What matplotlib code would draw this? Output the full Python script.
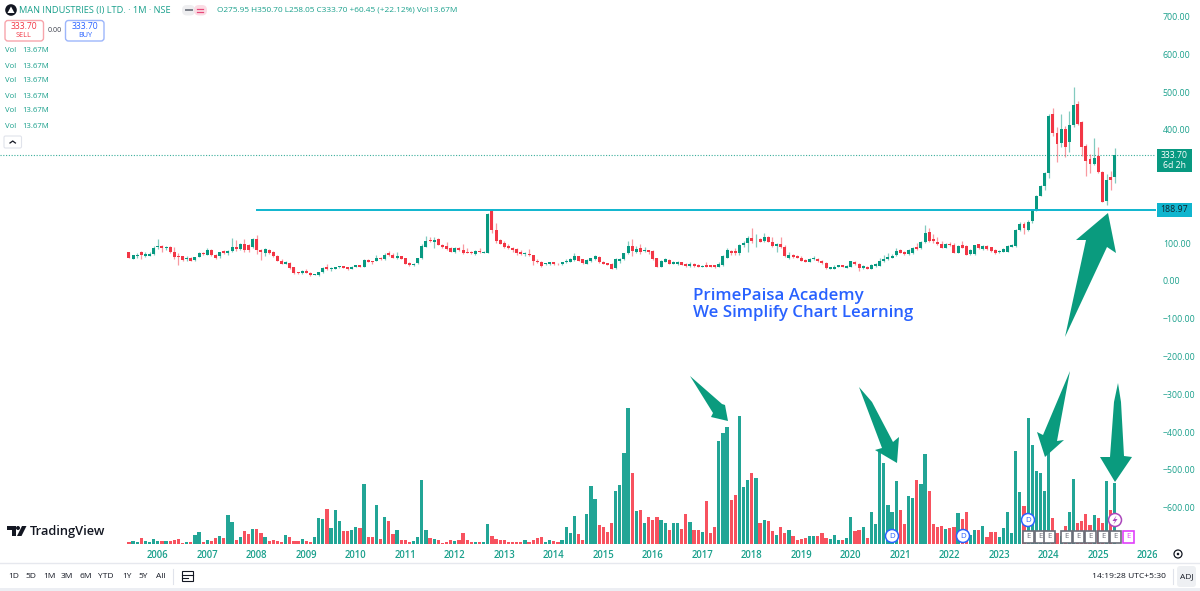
import numpy as np
import matplotlib
matplotlib.use("Agg")
import matplotlib.pyplot as plt
from matplotlib.patches import Polygon, Rectangle, Circle, FancyBboxPatch

plt.rcParams['font.family'] = ['Open Sans', 'DejaVu Sans']

open_p = [76,58,66,78,67,67,71,89,92,87, 90,78,65,66,57,61,55,64,75,70, 83,69,65,79,73,80,89,85,98,95,
          91,111,82,75,83,78,67,54,46,48, 36,24,20,26,22,16,16,23,36,31, 32,36,39,36,32,38,41,38,56,52,
          53,61,57,73,68,62,65,61,48,42, 47,60,91,108,103,110,95,92,87,78, 86,83,76,77,71,79,75,75,188,135,
          108,101,92,88,84,77,71,72,68,54, 51,44,45,49,46,45,49,51,55,66, 57,46,53,58,64,51,47,45,35,53,
          57,73,93,77,86,79,81,80,60,38, 51,56,45,46,49,46,39,46,42,37, 42,41,41,38,42,62,80,80,73,95,
          101,113,105,112,106,117,102,93,97,91, 62,69,67,62,55,50,57,59,53,47, 32,33,38,41,35,37,50,46,34,37,
          33,40,40,52,57,62,69,82,77,71, 74,90,86,103,130,111,104,99,88,98, 96,75,95,92,71,72,97,84,93,89,
          81,76,77,78,91,92,135,151,135,159, 189,226,252,285,443,392,366,401,367,412,
          468,420,357,322,309,330,289,212,274,275.95]
close_p = [61,68,68,68,71,71,88,92,86,91, 77,63,63,55,62,53,63,75,72,83, 68,62,77,75,79,91,85,97,82,82,
           110,82,77,84,73,66,54,46,51,35, 20,20,26,22,15,18,23,35,31,34, 36,39,35,31,38,41,37,56,51,50,
           61,58,70,68,62,65,59,46,41,46, 60,92,106,106,109,95,90,84,77,86, 83,75,75,73,79,76,77,177,136,106,
           99,91,86,82,73,71,74,69,52,49, 40,47,49,45,44,49,53,57,66,54, 47,55,60,65,49,46,43,33,57,59,
           73,93,79,85,77,82,77,58,38,53, 58,46,49,50,43,39,45,39,37,40, 37,37,37,46,66,82,73,73,95,101,
           114,106,107,103,117,104,93,98,91,66, 70,63,61,53,50,58,61,52,47,34, 37,38,41,38,39,52,45,35,40,32,
           41,44,52,57,64,66,79,75,71,82, 86,85,103,128,107,105,98,88,97,94, 75,92,88,70,82,95,86,93,85,80,
           75,79,84,92,95,136,150,139,157,186, 225,251,285,437,392,362,401,355,412,465,
           415,355,318,309,326,289,210,267,267,333.70]
high_p = [77,70,74,79,77,76,92,110,94,92, 92,90,73,67,65,63,64,78,76,86, 84,72,78,82,83,115,108,100,111,98,
          115,123,84,87,85,80,68,58,52,50, 37,25,30,33,24,19,25,37,44,36, 38,40,40,37,39,42,42,57,57,53,
          70,64,73,80,75,76,67,62,49,47, 62,97,120,117,116,115,99,104,90,90, 90,98,88,80,81,86,80,179,190,153,
          112,106,97,90,86,82,77,84,69,58, 53,48,50,50,47,51,59,60,75,67, 58,57,62,70,66,53,48,47,60,61,
          75,107,110,92,97,90,82,81,62,55, 61,58,52,54,51,48,50,48,44,42, 49,43,43,50,68,86,82,87,98,106,
          120,139,125,115,126,120,117,101,117,95, 78,72,69,65,57,60,65,60,55,49, 38,42,43,43,41,53,54,48,42,39,
          44,47,62,70,73,72,88,84,79,84, 89,101,106,148,140,125,117,105,100,103, 100,95,105,96,84,96,99,96,95,91,
          84,81,87,95,98,138,155,155,162,188, 228,253,288,442,458,408,442,410,450,513,
          476,424,362,335,379,354,292,283,291,350.70]
low_p = [60,57,62,58,64,65,70,85,77,82, 73,57,42,52,54,52,53,63,68,68, 66,58,62,72,70,78,80,82,78,78,
         88,71,55,65,71,64,52,44,45,33, 19,19,19,20,14,15,14,22,29,26, 31,35,34,30,31,37,36,37,50,45,
         52,56,56,66,60,58,58,44,39,40, 46,58,90,104,88,94,86,82,76,75, 80,72,73,71,69,74,74,74,128,100,
         98,88,84,76,70,70,67,67,42,47, 38,42,41,43,42,43,48,50,53,52, 46,45,51,56,48,44,41,32,33,47,
         55,72,67,74,72,76,72,56,36,36, 49,45,44,43,42,37,37,37,36,36, 36,36,35,37,40,60,70,70,70,90,
         76,100,89,102,104,102,90,78,88,64, 58,62,60,52,49,49,56,50,45,32, 31,32,36,36,34,36,43,27,33,31,
         32,38,39,51,56,60,67,73,69,69, 72,82,85,101,103,100,96,86,86,92, 73,73,86,68,69,70,84,82,82,78,
         72,75,76,77,90,90,133,125,133,153, 186,225,240,273,383,315,355,327,341,408,
         412,330,278,285,306,285,209,202,240,258.05]
# monthly volume, in units where the last bar (May 2025) reads 182 = 13.67M
volume_units = [5,10,6,18,8,5,14,10,10,8, 10,13,14,3,5,6,27,35,7,12, 8,17,24,18,88,65,12,20,38,30,
                45,45,33,22,8,13,8,5,28,22, 10,9,14,9,5,22,78,76,104,48, 103,68,38,39,42,52,47,180,22,22,
                116,14,82,70,30,41,11,11,7,8, 20,192,41,18,14,12,3,5,13,9, 11,34,13,7,5,5,5,60,24,15,
                11,11,6,7,7,7,11,6,12,18, 21,6,13,9,6,11,50,32,84,30, 13,90,174,135,58,52,35,62,160,176,
                272,407,212,98,103,63,80,71,82,71, 62,41,62,63,46,91,67,41,41,37, 128,32,50,309,333,350,132,146,384,170,
                191,214,197,62,71,69,39,27,50,33, 41,23,13,15,17,23,24,24,33,17, 14,28,11,11,17,82,40,41,52,17,
                97,60,275,243,118,97,190,103,60,144, 139,192,179,270,159,60,52,53,46,48, 50,92,75,96,28,42,41,55,20,35,
                35,20,47,95,32,280,156,115,378,296, 218,213,158,278,78,33,25,55,95,194,
                62,70,90,58,87,77,62,190,103,182]
years = list(range(2006, 2027))
price_ticks = [700,600,500,400,300,200,100,0,-100,-200,-300,-400,-500,-600]
hidden_ticks = [300, 200]  # covered by the price tags in the reference
support_level = 188.97

GREEN, RED = '#089981', '#F23645'
VGREEN, VRED = '#22A596', '#F7525F'
TEAL = '#1AA08C'

O, H, L, C = map(np.array, (open_p, high_p, low_p, close_p))
V = np.array(volume_units) * 13.67 / 182
idx = np.arange(len(C))
up = C >= O

W, Hh = 1200, 591
fig = plt.figure(figsize=(12, 5.91), dpi=100, facecolor='white')
pane_right, pane_bottom = 1156, 544
rect = [0, 1 - pane_bottom / Hh, pane_right / W, pane_bottom / Hh]

# volume pane (behind)
axv = fig.add_axes(rect, facecolor='white')
axv.bar(idx, V, width=0.78, color=[VGREEN if u else VRED for u in up], linewidth=0)
axv.set_xlim(-31.27, 249.0)
axv.set_ylim(0, 122.6)
axv.set_yticks([])
axv.set_xticks(7 + 12 * (np.array(years) - 2006))
axv.set_xticklabels([str(y) for y in years], fontsize=6.9, color=TEAL, fontweight='semibold')
axv.tick_params(axis='x', length=0, pad=4)
for s in axv.spines.values():
    s.set_visible(False)

# price pane
ax = fig.add_axes(rect, facecolor='none')
ax.set_xlim(-31.27, 249.0)
ax.set_ylim(-695.8, 743.4)
ax.vlines(idx, L, H, color=[GREEN if u else RED for u in up], lw=0.9, alpha=0.5, zorder=2)
ax.bar(idx, np.abs(C - O), bottom=np.minimum(O, C), width=0.72,
       color=[GREEN if u else RED for u in up], linewidth=0, zorder=3)
ax.axhline(C[-1], color=GREEN, lw=0.8, ls=(0, (1, 1.5)), alpha=0.8, zorder=1)
ax.hlines(support_level, 30.8, 249.0, color='#0FB5CE', lw=1.4, zorder=4)
ax.set_xticks([])
ax.yaxis.tick_right()
ax.set_yticks(price_ticks)
ax.set_yticklabels(["" if t in hidden_ticks else f"{t:.2f}".replace('-', '\u2212') for t in price_ticks],
                   fontsize=6.3, color=TEAL, ha='left', fontweight='medium')
ax.tick_params(axis='y', length=0, pad=5)
for s in ax.spines.values():
    s.set_visible(False)

# overlay in pixel units for the chart furniture
ov = fig.add_axes([0, 0, 1, 1], facecolor='none')
ov.set_xlim(0, W); ov.set_ylim(Hh, 0); ov.axis('off')

def T(x, y, s, size=8, color=TEAL, ha='left', weight='normal', **kw):
    ov.text(x, y, s, fontsize=size, color=color, ha=ha, va='center', fontweight=weight, **kw)

def RB(x0, y0, x1, y1, r=2, fc='white', ec='none', lw=1, z=5):
    ov.add_patch(FancyBboxPatch((x0 + r, y0 + r), x1 - x0 - 2 * r, y1 - y0 - 2 * r,
                                boxstyle=f"round,pad={r},rounding_size={r}",
                                fc=fc, ec=ec, lw=lw, zorder=z))

# clip 2026 label at the pane edge
ov.add_patch(Rectangle((1156.5, 546), 16, 14, fc='white', ec='none', zorder=2))

# arrows
AC = '#0A9B7E'
arrows = [
    [(1108,213),(1116,253),(1107,247),(1065,337),(1086,240),(1076,240)],
    [(728,421),(711,417),(713,413),(690,376),(722,404),(725,405)],
    [(897,463),(875,450),(882,448),(859,387),(872,402),(893,442),(899,437)],
    [(1045,457),(1037,432),(1043,435),(1070,371),(1057,441),(1064,440)],
    [(1115,482),(1100,457),(1110,457),(1114,402),(1118,383),(1121,402),(1124,456),(1132,457)],
]
for a in arrows:
    ov.add_patch(Polygon(a, closed=True, fc=AC, ec='none', zorder=6))

# annotation text
T(693, 296, "PrimePaisa Academy", size=12.2, color='#2962FF', weight='semibold')
T(693, 313, "We Simplify Chart Learning", size=12.2, color='#2962FF', weight='semibold')

# last price labels
ov.add_patch(Rectangle((1157, 149), 35, 23, fc=GREEN, ec='none', zorder=6))
T(1174.5, 155.5, "333.70", size=6.3, color='white', ha='center', zorder=7, weight='medium')
T(1174.5, 165.5, "6d 2h", size=6.3, color='white', ha='center', zorder=7)
ov.add_patch(Rectangle((1157, 203), 35, 14, fc='#0FB5CE', ec='none', zorder=6))
T(1174.5, 209.8, "188.97", size=6.3, color='#10202A', ha='center', zorder=7, weight='medium')

# header
ov.add_patch(Circle((11, 10), 5.8, fc='#131722', ec='none', zorder=6))
ov.add_patch(Polygon([(11, 6.5), (14.5, 13), (7.5, 13)], fc='white', ec='none', zorder=7))
T(19, 10, "MAN INDUSTRIES (I) LTD. \u00b7 1M \u00b7 NSE", size=6.7, color=TEAL)
RB(182, 5, 195, 15.5, r=5, fc='#EEEEF0')
RB(194, 5, 207, 15.5, r=5, fc='#FBDCE4')
ov.plot([185.5, 191.5], [10.3, 10.3], color='#7A7E88', lw=1.4, zorder=7)
ov.plot([197, 203], [9, 9], color='#E8487A', lw=0.9, zorder=7)
ov.plot([197, 203], [11.5, 11.5], color='#E8487A', lw=0.9, zorder=7)
T(217, 10, "O275.95 H350.70 L258.05 C333.70 +60.45 (+22.12%) Vol13.67M", size=5.95, color=TEAL)

# trade buttons
RB(5, 20.5, 43.5, 41, r=3, fc='white', ec='#F7A5AC', lw=1)
T(24, 26.5, "333.70", size=6.2, color=RED, ha='center', zorder=7)
T(24, 35.5, "SELL", size=5.2, color=RED, ha='center', zorder=7)
T(54.5, 30.5, "0.00", size=5, color='#3A3E4A', ha='center')
RB(65.5, 20.5, 104, 41, r=3, fc='white', ec='#9DB6FB', lw=1)
T(85, 26.5, "333.70", size=6.2, color='#2962FF', ha='center', zorder=7)
T(85, 35.5, "BUY", size=5.2, color='#2962FF', ha='center', zorder=7)
for y in (51, 66, 81, 96, 111, 126):
    T(5, y, "Vol", size=5.6, color=TEAL)
    T(22, y, "13.67M", size=5.6, color=TEAL)
RB(4, 136, 21.5, 148, r=1.5, fc='white', ec='#E0E3EB', lw=0.8)
ov.plot([10, 12.7, 15.4], [143, 141, 143], color='#131722', lw=0.9, zorder=7)

# event markers
for x in (892, 963, 1028):
    cy = 520 if x == 1028 else 536
    ov.add_patch(Circle((x, cy), 6.5, fc='white', ec='#2962FF', lw=1.1, zorder=8))
    T(x, cy, "D", size=5.8, color='#2962FF', ha='center', zorder=9)
ov.add_patch(Circle((1115, 520), 6.5, fc='white', ec='#AB47BC', lw=1.1, zorder=8))
ov.add_patch(Polygon([(1116.5,515.5),(1112.5,521),(1115,521),(1113.5,524.5),(1117.5,519),(1115,519)],
                     fc='#AB47BC', ec='none', zorder=9))
for x in (1028, 1040, 1049, 1066, 1078, 1090, 1103, 1115):
    ov.add_patch(Rectangle((x - 5.5, 530.5), 11, 12, fc='white', ec='#6A6D78', lw=1.2, zorder=8))
    T(x, 536.5, "E", size=5.6, color='#6A6D78', ha='center', zorder=9)
ov.add_patch(Rectangle((1122.5, 530.5), 11, 12, fc='white', ec='#E040FB', lw=1.2, zorder=8))
T(1128, 536.5, "E", size=5.6, color='#E040FB', ha='center', zorder=9)

# TradingView logo
ov.add_patch(Polygon([(7,526),(15.5,526),(15.5,536),(11.5,536),(11.5,530),(7,530)], fc='#131722', ec='none', zorder=6))
ov.add_patch(Circle((18, 528), 2, fc='#131722', ec='none', zorder=6))
ov.add_patch(Polygon([(22,526),(26.5,526),(21.5,536),(17,536)], fc='#131722', ec='none', zorder=6))
T(30, 531, "TradingView", size=9.3, color='#131722', weight='semibold')

# bottom toolbar
ov.plot([0, W], [563, 563], color='#E6E8EE', lw=1, zorder=1)
ov.add_patch(Rectangle((0, 588), W, 3, fc='#ECEEF3', ec='none', zorder=1))
for x, s in zip((14, 31, 49, 67, 86, 106, 127, 143, 161), ("1D","5D","1M","3M","6M","YTD","1Y","5Y","All")):
    T(x, 576.5, s, size=6, color='#131722', ha='center')
ov.plot([172.5, 172.5], [569, 584], color='#E0E3EB', lw=0.8)
ov.add_patch(Rectangle((182, 571), 11, 10, fc='white', ec='#131722', lw=0.8, zorder=5))
ov.plot([182, 193], [574.5, 574.5], color='#131722', lw=0.8, zorder=6)
ov.plot([182, 188], [578, 578], color='#131722', lw=0.8, zorder=6)
T(1166, 577, "14:19:28 UTC+5:30", size=6.1, color='#131722', ha='right')
ov.plot([1172.5, 1172.5], [569, 584], color='#E0E3EB', lw=0.8)
RB(1177, 566, 1196, 587, r=3, fc='#EEF0F3')
T(1186.5, 577, "ADJ", size=6, color='#131722', ha='center', zorder=7)
ov.add_patch(Circle((1178, 554), 4, fc='white', ec='#131722', lw=0.9, zorder=5))
ov.add_patch(Circle((1178, 554), 1.3, fc='#131722', ec='none', zorder=6))

fig.savefig('out.png', dpi=100)
